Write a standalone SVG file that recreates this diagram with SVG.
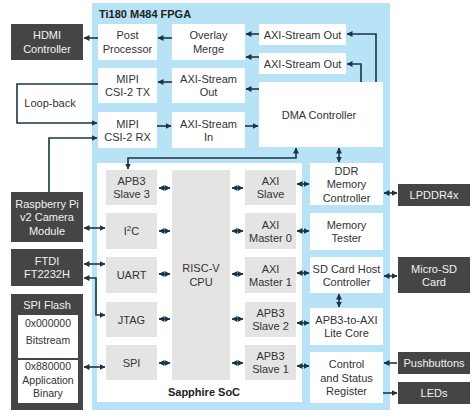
<svg xmlns="http://www.w3.org/2000/svg" width="474" height="420" viewBox="0 0 474 420">
<defs>
<style>
text{font-family:"Liberation Sans",Arial,sans-serif;font-size:11px;fill:#333;text-anchor:middle}
.title{font-weight:bold;text-anchor:start;fill:#222}
.bold{font-weight:bold;fill:#222}
.ext rect.b{fill:#454545}
.ext text{fill:#f2f2f2}
.w{fill:#fff}
.g{fill:#e4e4e4}
.small{font-size:10.5px}
#connectors path{fill:none;stroke:#1b3445;stroke-width:1.6}
.s{marker-end:url(#ah)}
.d{marker-start:url(#ah);marker-end:url(#ah)}
</style>
<marker id="ah" viewBox="0 0 6 6" refX="5.5" refY="3" markerWidth="6" markerHeight="6" markerUnits="userSpaceOnUse" orient="auto-start-reverse">
<path d="M0,0 L6,3 L0,6 z" fill="#1b3445"/>
</marker>
</defs>
<rect width="474" height="420" fill="#fff"/>

<g id="fpga">
<rect x="92" y="3" width="298" height="407" fill="#b8e2f6"/>
<text class="title" x="99" y="18">Ti180 M484 FPGA</text>
</g>
<g id="soc">
<rect x="97" y="163" width="205" height="239" fill="#fff"/>
<text class="bold" x="204" y="396">Sapphire SoC</text>
</g>

<g id="hdmi" class="ext"><rect class="b" x="11" y="24" width="72" height="36"/><text x="47" y="39">HDMI</text><text x="47" y="52.5">Controller</text></g>
<g id="rpi" class="ext"><rect class="b" x="11" y="192" width="72" height="50"/><text x="47" y="207.5">Raspberry Pi</text><text x="47" y="221">v2 Camera</text><text x="47" y="234.5">Module</text></g>
<g id="ftdi" class="ext"><rect class="b" x="11" y="249" width="72" height="37"/><text x="47" y="265">FTDI</text><text x="47" y="278">FT2232H</text></g>
<g id="spiflash" class="ext"><rect class="b" x="11" y="294" width="72" height="116"/><text x="47" y="309">SPI Flash</text>
<rect class="w" x="18" y="315" width="60" height="43"/><rect class="w" x="18" y="360" width="60" height="43"/>
<text class="small" x="48" y="327" style="fill:#333">0x000000</text><text class="small" x="48" y="344" style="fill:#333">Bitstream</text>
<text class="small" x="48" y="370" style="fill:#333">0x880000</text><text class="small" x="48" y="384" style="fill:#333">Application</text><text class="small" x="48" y="397" style="fill:#333">Binary</text></g>
<g id="lpddr" class="ext"><rect class="b" x="398" y="184" width="72" height="22"/><text x="434" y="199">LPDDR4x</text></g>
<g id="microsd" class="ext"><rect class="b" x="398" y="257" width="72" height="36"/><text x="434" y="272.5">Micro-SD</text><text x="434" y="285.5">Card</text></g>
<g id="pushbuttons" class="ext"><rect class="b" x="398" y="352" width="72" height="22"/><text x="434" y="367">Pushbuttons</text></g>
<g id="leds" class="ext"><rect class="b" x="398" y="382" width="72" height="22"/><text x="434" y="397">LEDs</text></g>

<g id="postproc"><rect class="w" x="98" y="24" width="59" height="36"/><text x="127.5" y="39">Post</text><text x="127.5" y="52.5">Processor</text></g>
<g id="overlay"><rect class="w" x="172" y="24" width="73" height="36"/><text x="208.5" y="39">Overlay</text><text x="208.5" y="52.5">Merge</text></g>
<g id="axiout1"><rect class="w" x="259" y="24" width="87" height="21"/><text x="302.5" y="38.5">AXI-Stream Out</text></g>
<g id="axiout2"><rect class="w" x="259" y="53" width="87" height="21"/><text x="302.5" y="67.5">AXI-Stream Out</text></g>
<g id="mipitx"><rect class="w" x="98" y="68" width="59" height="35"/><text x="127.5" y="83">MIPI</text><text x="127.5" y="96">CSI-2 TX</text></g>
<g id="axiout3"><rect class="w" x="172" y="68" width="73" height="35"/><text x="208.5" y="83">AXI-Stream</text><text x="208.5" y="96">Out</text></g>
<g id="mipirx"><rect class="w" x="98" y="112" width="59" height="36"/><text x="127.5" y="127.5">MIPI</text><text x="127.5" y="140.5">CSI-2 RX</text></g>
<g id="axiin"><rect class="w" x="172" y="112" width="73" height="36"/><text x="208.5" y="127.5">AXI-Stream</text><text x="208.5" y="140.5">In</text></g>
<g id="dma"><rect class="w" x="259" y="82" width="124" height="65"/><text x="319" y="118.5">DMA Controller</text></g>

<g id="apb3s3"><rect class="g" x="106" y="170" width="51" height="35"/><text x="131.5" y="185">APB3</text><text x="131.5" y="198">Slave 3</text></g>
<g id="i2c"><rect class="g" x="106" y="213" width="51" height="36"/><text x="131.5" y="235">I<tspan dy="-4" font-size="8">2</tspan><tspan dy="4">C</tspan></text></g>
<g id="uart"><rect class="g" x="106" y="257" width="51" height="36"/><text x="131.5" y="279">UART</text></g>
<g id="jtag"><rect class="g" x="106" y="302" width="51" height="35"/><text x="131.5" y="323.5">JTAG</text></g>
<g id="spi"><rect class="g" x="106" y="345" width="51" height="35"/><text x="131.5" y="366.5">SPI</text></g>
<g id="cpu"><rect class="g" x="172" y="170" width="58" height="210"/><text x="201" y="272">RISC-V</text><text x="201" y="286">CPU</text></g>
<g id="axislave"><rect class="g" x="245" y="170" width="51" height="35"/><text x="270.5" y="185">AXI</text><text x="270.5" y="198">Slave</text></g>
<g id="aximaster0"><rect class="g" x="245" y="213" width="51" height="36"/><text x="270.5" y="228.5">AXI</text><text x="270.5" y="241.5">Master 0</text></g>
<g id="aximaster1"><rect class="g" x="245" y="257" width="51" height="36"/><text x="270.5" y="272.5">AXI</text><text x="270.5" y="285.5">Master 1</text></g>
<g id="apb3s2"><rect class="g" x="245" y="302" width="51" height="35"/><text x="270.5" y="317">APB3</text><text x="270.5" y="330">Slave 2</text></g>
<g id="apb3s1"><rect class="g" x="245" y="345" width="51" height="35"/><text x="270.5" y="360">APB3</text><text x="270.5" y="373">Slave 1</text></g>

<g id="ddr"><rect class="w" x="310" y="163" width="73" height="42"/><text x="346.5" y="174.5">DDR</text><text x="346.5" y="188">Memory</text><text x="346.5" y="201.5">Controller</text></g>
<g id="memtester"><rect class="w" x="310" y="213" width="73" height="37"/><text x="346.5" y="229">Memory</text><text x="346.5" y="242">Tester</text></g>
<g id="sdhost"><rect class="w" x="310" y="257" width="73" height="36"/><text x="346.5" y="272.5">SD Card Host</text><text x="346.5" y="285.5">Controller</text></g>
<g id="apb2axi"><rect class="w" x="310" y="308" width="73" height="37"/><text x="346.5" y="324">APB3-to-AXI</text><text x="346.5" y="337">Lite Core</text></g>
<g id="csr"><rect class="w" x="310" y="352" width="73" height="51"/><text x="346.5" y="368">Control</text><text x="346.5" y="381.5">and Status</text><text x="346.5" y="395">Register</text></g>

<text x="50" y="107">Loop-back</text>

<g id="connectors">
<path class="s" d="M98,38 H84"/>
<path class="s" d="M172,38 H158"/>
<path class="s" d="M259,34 H246"/>
<path class="s" d="M259,57 H246"/>
<path class="s" d="M376,82 V34 H347"/>
<path class="s" d="M361,82 V64 H347"/>
<path class="s" d="M172,82 H158"/>
<path class="s" d="M259,89 H246"/>
<path class="s" d="M157,126 H171"/>
<path class="s" d="M245,126 H258"/>
<path class="s" d="M98,84 H17 V123 H97"/>
<path class="s" d="M49,192 V138 H97"/>
<path class="d" d="M296,148 V158 H128 V169"/>
<path class="d" d="M339,148 V162"/>
<path class="d" d="M84,228 H105"/>
<path class="d" d="M84,264 H105"/>
<path class="d" d="M84,278 H96 V315 H105"/>
<path class="d" d="M84,367 H105"/>
<path class="d" d="M159,188 H170"/>
<path class="d" d="M159,231 H170"/>
<path class="d" d="M159,274 H170"/>
<path class="d" d="M159,319 H170"/>
<path class="d" d="M159,363 H170"/>
<path class="d" d="M232,188 H243"/>
<path class="d" d="M232,231 H243"/>
<path class="d" d="M232,274 H243"/>
<path class="d" d="M232,319 H243"/>
<path class="d" d="M232,363 H243"/>
<path class="d" d="M297,184 H309"/>
<path class="d" d="M297,231 H309"/>
<path class="d" d="M297,273 H309"/>
<path class="d" d="M297,323 H309"/>
<path class="d" d="M297,366 H309"/>
<path class="d" d="M384,193 H397"/>
<path class="d" d="M384,276 H397"/>
<path class="d" d="M339,294 V307"/>
<path class="s" d="M397,363 H384"/>
<path class="s" d="M383,393 H397"/>
</g>
</svg>
